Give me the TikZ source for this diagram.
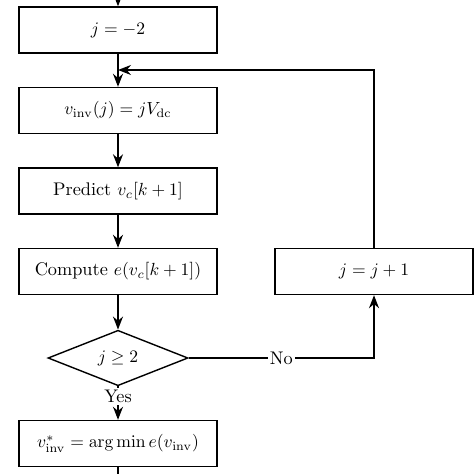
\documentclass[tikz,border=0pt]{standalone}
\usepackage{amsmath}
\usepackage{tikz}
\usetikzlibrary{positioning,arrows.meta,shapes.geometric}

\begin{document}
\begin{tikzpicture}[>={Stealth[length=2.6mm,width=2mm]}, thick,
  font=\fontsize{10.4}{12.5}\selectfont,
  box/.style={draw, align=center, minimum height=9.2mm, minimum width=#1},
  box/.default=39.6mm,
  test/.style={draw, diamond, inner sep=0pt, minimum width=28mm, minimum height=11mm},
  lbl/.style={fill=white, inner sep=1pt}]
\useasboundingbox (0,0) rectangle (9.48,-9.48);
\coordinate (in)  at (2.36,0);
\coordinate (out) at (2.36,-9.48);
\coordinate (merge) at (2.36,-1.40);
\node[box] (init)   at (2.36,-0.60) {$j=-2$};
\node[box] (vinv)   at (2.36,-2.21) {$v_{\mathrm{inv}}(j)=jV_{\mathrm{dc}}$};
\node[box] (pred)   at (2.36,-3.82) {Predict $v_c[k+1]$};
\node[box] (comp)   at (2.36,-5.43) {Compute $e(v_c[k+1])$};
\node[test] (check) at (2.36,-7.16) {$j\geq 2$};
\node[box] (best)   at (2.36,-8.87) {$v_{\mathrm{inv}}^{*}=\arg\min e(v_{\mathrm{inv}})$};
\node[box] (incr)   at (7.48,-5.43) {$j=j+1$};
\draw[->] (in) -- (init);
\draw[->] (init) -- (vinv);
\foreach \a/\b in {vinv/pred,pred/comp,comp/check} {\draw[->] (\a) -- (\b);}
\draw[->] (check) -- node[lbl, pos=0.3] {Yes} (best);
\draw (best) -- (out);
\draw[->] (check.east) -- node[lbl] {No} (incr |- check.east) -- (incr);
\draw[->] (incr) |- (merge);
\end{tikzpicture}
\end{document}
